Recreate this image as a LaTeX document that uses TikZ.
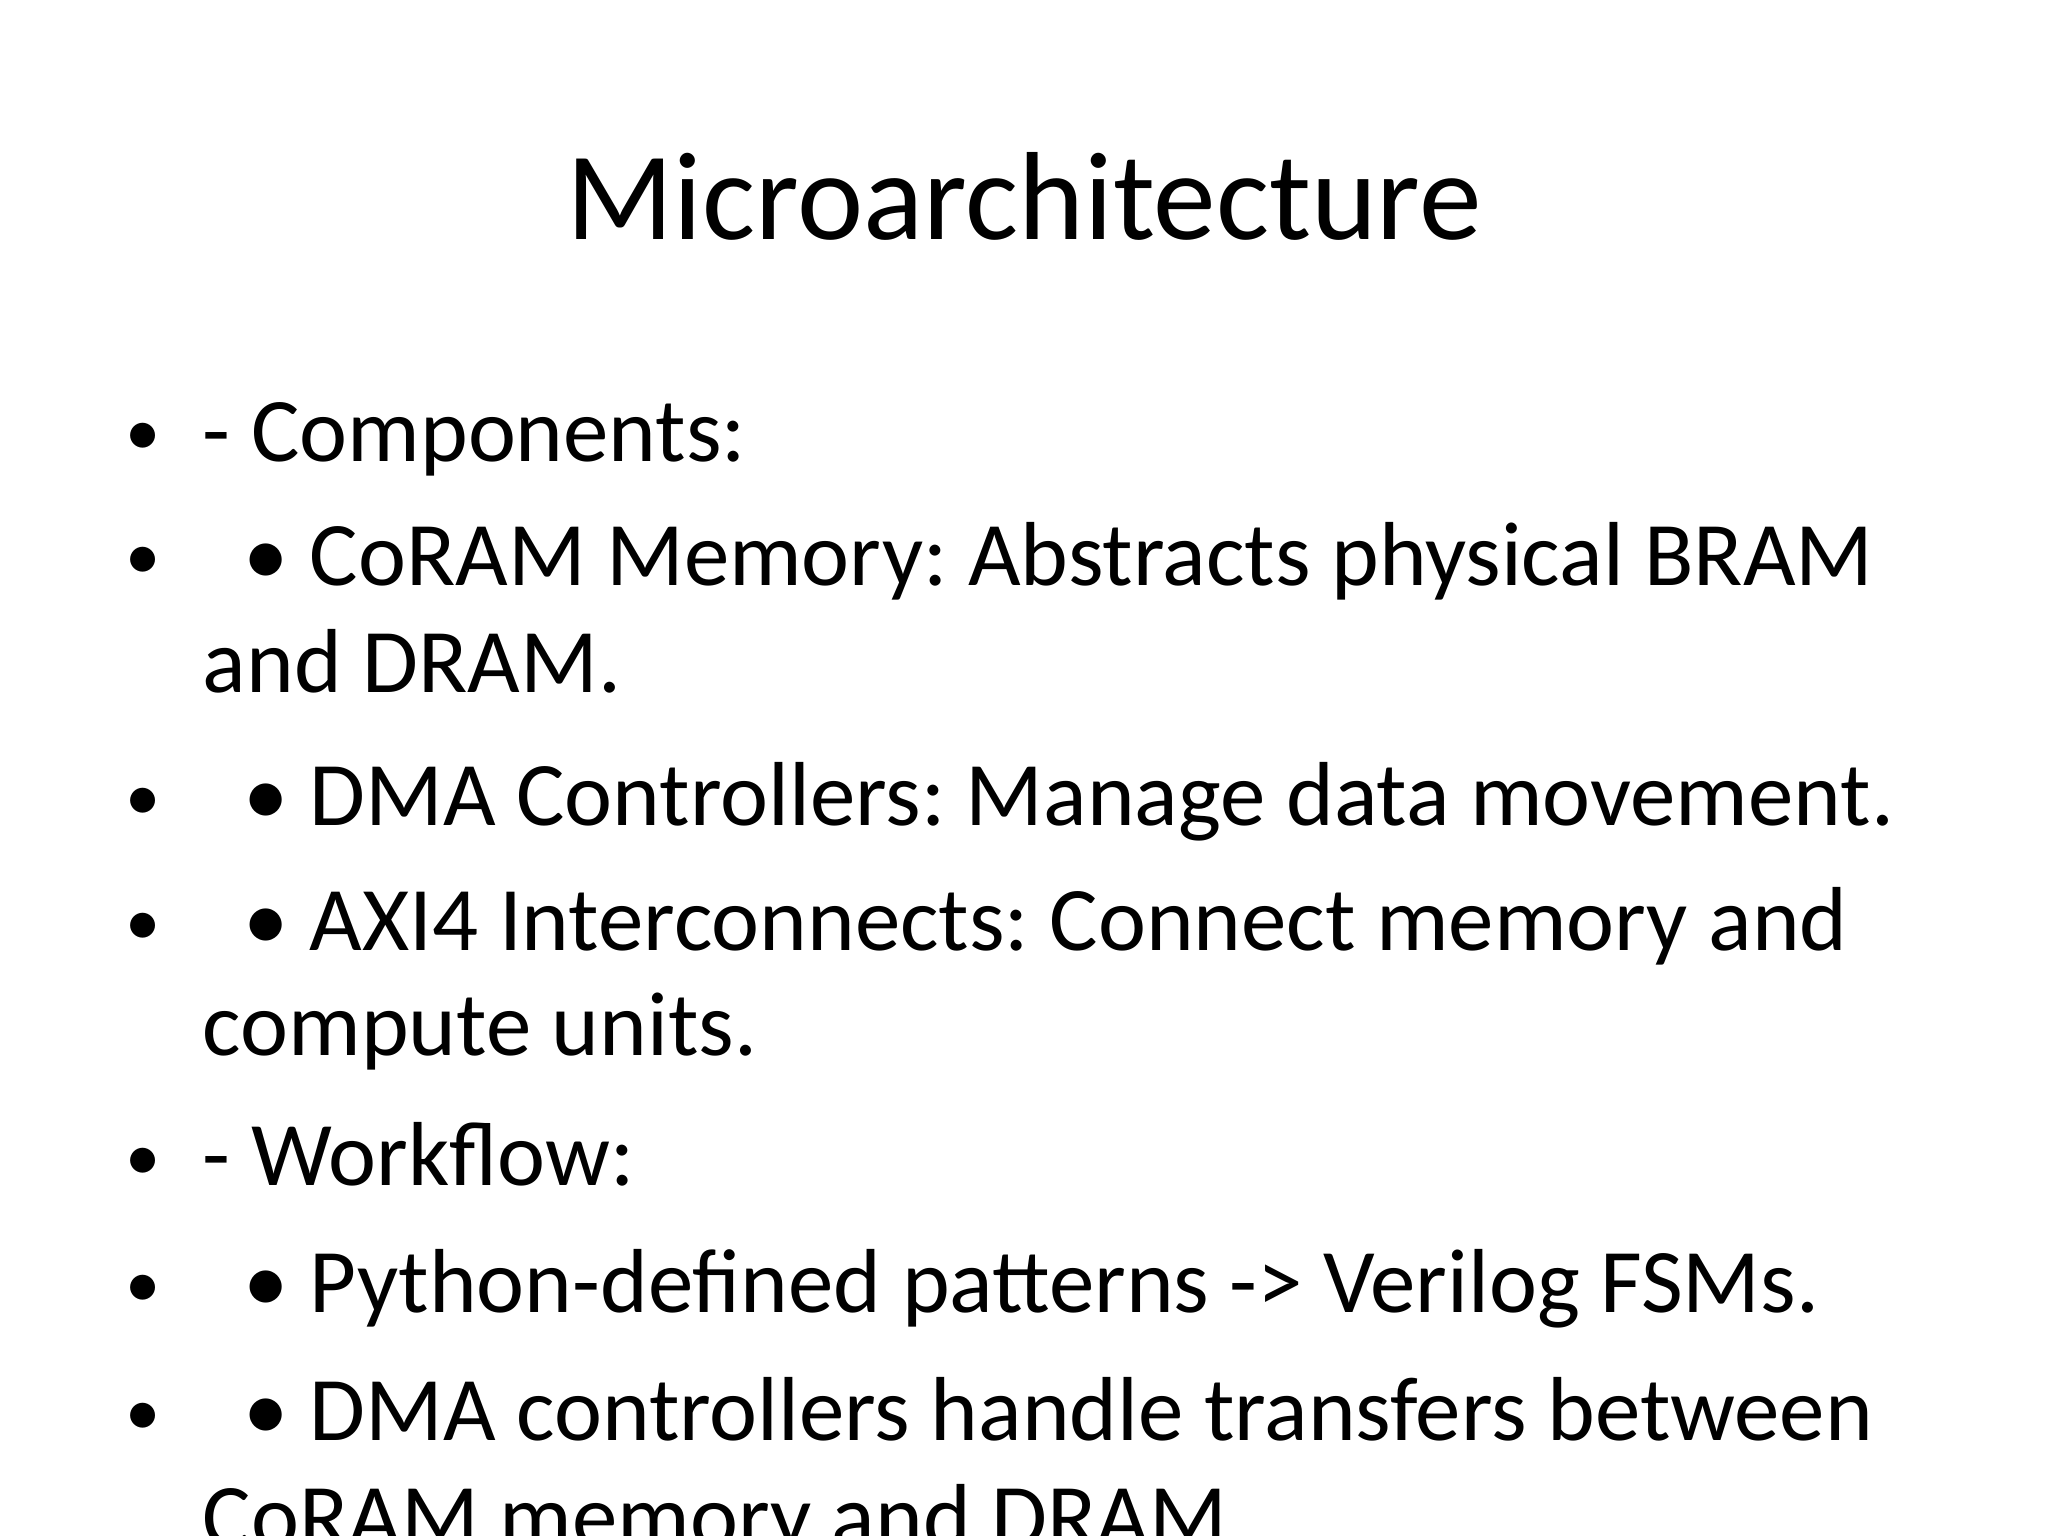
\documentclass[tikz,border=0pt]{standalone}
\usepackage{fontspec}
\setmainfont{Carlito}
\frenchspacing
\begin{document}
\begin{tikzpicture}[x=0.5pt,y=-0.5pt,
  body/.style={anchor=base west,inner sep=0pt,font=\fontsize{34.8}{41}\selectfont},
  bul/.style={anchor=base west,inner sep=0pt,font=\fontsize{27}{32}\selectfont}]
\useasboundingbox (0,0) rectangle (1568,1176);
\node[anchor=base,inner sep=0pt,font=\fontsize{48}{58}\selectfont] (title) at (784,183) {Microarchitecture};
\foreach \y/\n in {353/b1,448/b2,632/b3,728/b4,908/b5,1005/b6,1103/b7}
  \node[bul] (\n) at (96,\y-4) {•};
\node[body] (t1) at (155,353) {- Components:};
\node[body] (t2) at (155,448) {\hspace{0.45em}• CoRAM Memory: Abstracts physical BRAM};
\node[body] (t2b) at (155,530) {and DRAM.};
\node[body] (t3) at (155,632) {\hspace{0.45em}• DMA Controllers: Manage data movement.};
\node[body] (t4) at (155,728) {\hspace{0.45em}• AXI4 Interconnects: Connect memory and};
\node[body] (t4b) at (155,808) {compute units.};
\node[body] (t5) at (155,908) {- Workflow:};
\node[body] (t6) at (155,1005) {\hspace{0.45em}• Python-defined patterns -> Verilog FSMs.};
\node[body] (t7) at (155,1103) {\hspace{0.45em}• DMA controllers handle transfers between};
\node[body] (t7b) at (155,1185) {CoRAM memory and DRAM.};
\end{tikzpicture}
\end{document}
